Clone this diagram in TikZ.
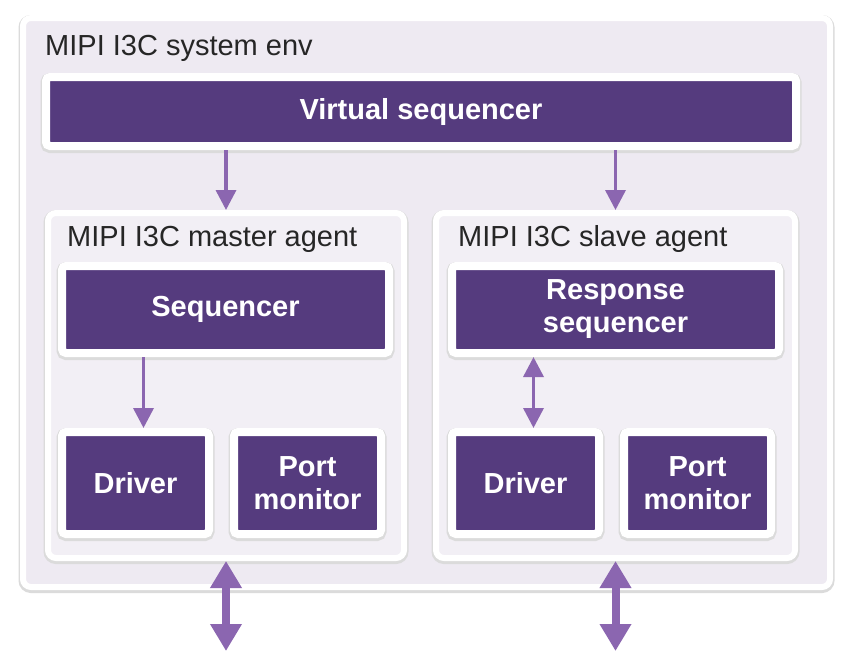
\documentclass[tikz,border=0pt]{standalone}
\usepackage{fontspec}
\setmainfont{Liberation Sans}
\usetikzlibrary{arrows.meta, positioning}
\definecolor{envbg}{HTML}{EEEAF2}
\definecolor{agentbg}{HTML}{F2EFF5}
\definecolor{blockpurple}{HTML}{553B7E}
\definecolor{arrowpurple}{HTML}{8B66B0}

\begin{document}
\begin{tikzpicture}[x=1pt, y=-1pt, node distance=17pt, font=\fontsize{29}{33}\selectfont,
    envbox/.style={draw=white, fill=envbg, line width=6pt, rounded corners=8pt, inner sep=0pt,
        preaction={draw=black!14, line width=9pt, transform canvas={yshift=-1.5pt}}},
    agentbox/.style={envbox, fill=agentbg},
    blockbox/.style={draw=white, fill=blockpurple, line width=8pt, rounded corners=4pt, inner sep=0pt,
        text=white, align=center, font=\fontsize{29}{33}\selectfont\bfseries,
        preaction={draw=black!14, line width=11pt, transform canvas={yshift=-1.5pt}}},
    boxtitle/.style={anchor=base west, inner sep=0pt, text=black!85},
    arr/.style={-{Triangle[width=20pt, length=20pt]}, line width=3.5pt, arrowpurple},
    busarr/.style={{Triangle[width=30pt, length=27pt]}-{Triangle[width=30pt, length=27pt]}, line width=8pt, arrowpurple}]
    \useasboundingbox (0,0) rectangle (850,651);

    % System env
    \node[envbox, minimum width=807pt, minimum height=569pt] (env) at (426.5,302.5) {};
    \node[boxtitle] (envtitle) at (45,55) {MIPI I3C system env};

    % Virtual sequencer
    \node[blockbox, minimum width=750pt, minimum height=69pt] (vseq) at (421,111.5) {Virtual sequencer};

    % Agents
    \node[agentbox, minimum width=356pt, minimum height=345pt] (magent) at (226,385.5) {};
    \node[agentbox, minimum width=359pt, minimum height=345pt] (sagent) at (615.5,385.5) {};
    \node[boxtitle] (mtitle) at (67,246) {MIPI I3C master agent};
    \node[boxtitle] (stitle) at (458,246) {MIPI I3C slave agent};

    % Master agent blocks
    \node[blockbox, minimum width=327pt, minimum height=87pt] (mseq) at (225.5,309.5) {Sequencer};
    \node[blockbox, minimum width=147pt, minimum height=102pt] (mdrv) at (135.5,483) {Driver};
    \node[blockbox, minimum width=147pt, minimum height=102pt, right=of mdrv] (mmon) {Port\\monitor};

    % Slave agent blocks
    \node[blockbox, minimum width=327pt, minimum height=87pt] (rseq) at (615.5,309.5) {Response\\sequencer};
    \node[blockbox, minimum width=147pt, minimum height=102pt] (sdrv) at (525.5,483) {Driver};
    \node[blockbox, minimum width=147pt, minimum height=102pt, right=of sdrv] (smon) {Port\\monitor};

    % Bus ends
    \coordinate (mbus) at (226,651);
    \coordinate (sbus) at (615.5,651);

    % Arrows
    \draw[arr] (vseq.south -| magent) -- (magent.north);
    \draw[arr] (vseq.south -| sagent) -- (sagent.north);
    \draw[arr] ([xshift=-82pt]mseq.south) -- ([xshift=-82pt]mseq.south |- mdrv.north);
    \draw[arr, {Triangle[width=20pt, length=20pt]}-{Triangle[width=20pt, length=20pt]}] ([xshift=-82pt]rseq.south) -- ([xshift=-82pt]rseq.south |- sdrv.north);
    \draw[busarr] (magent.south) -- (mbus);
    \draw[busarr] (sagent.south) -- (sbus);
\end{tikzpicture}
\end{document}
